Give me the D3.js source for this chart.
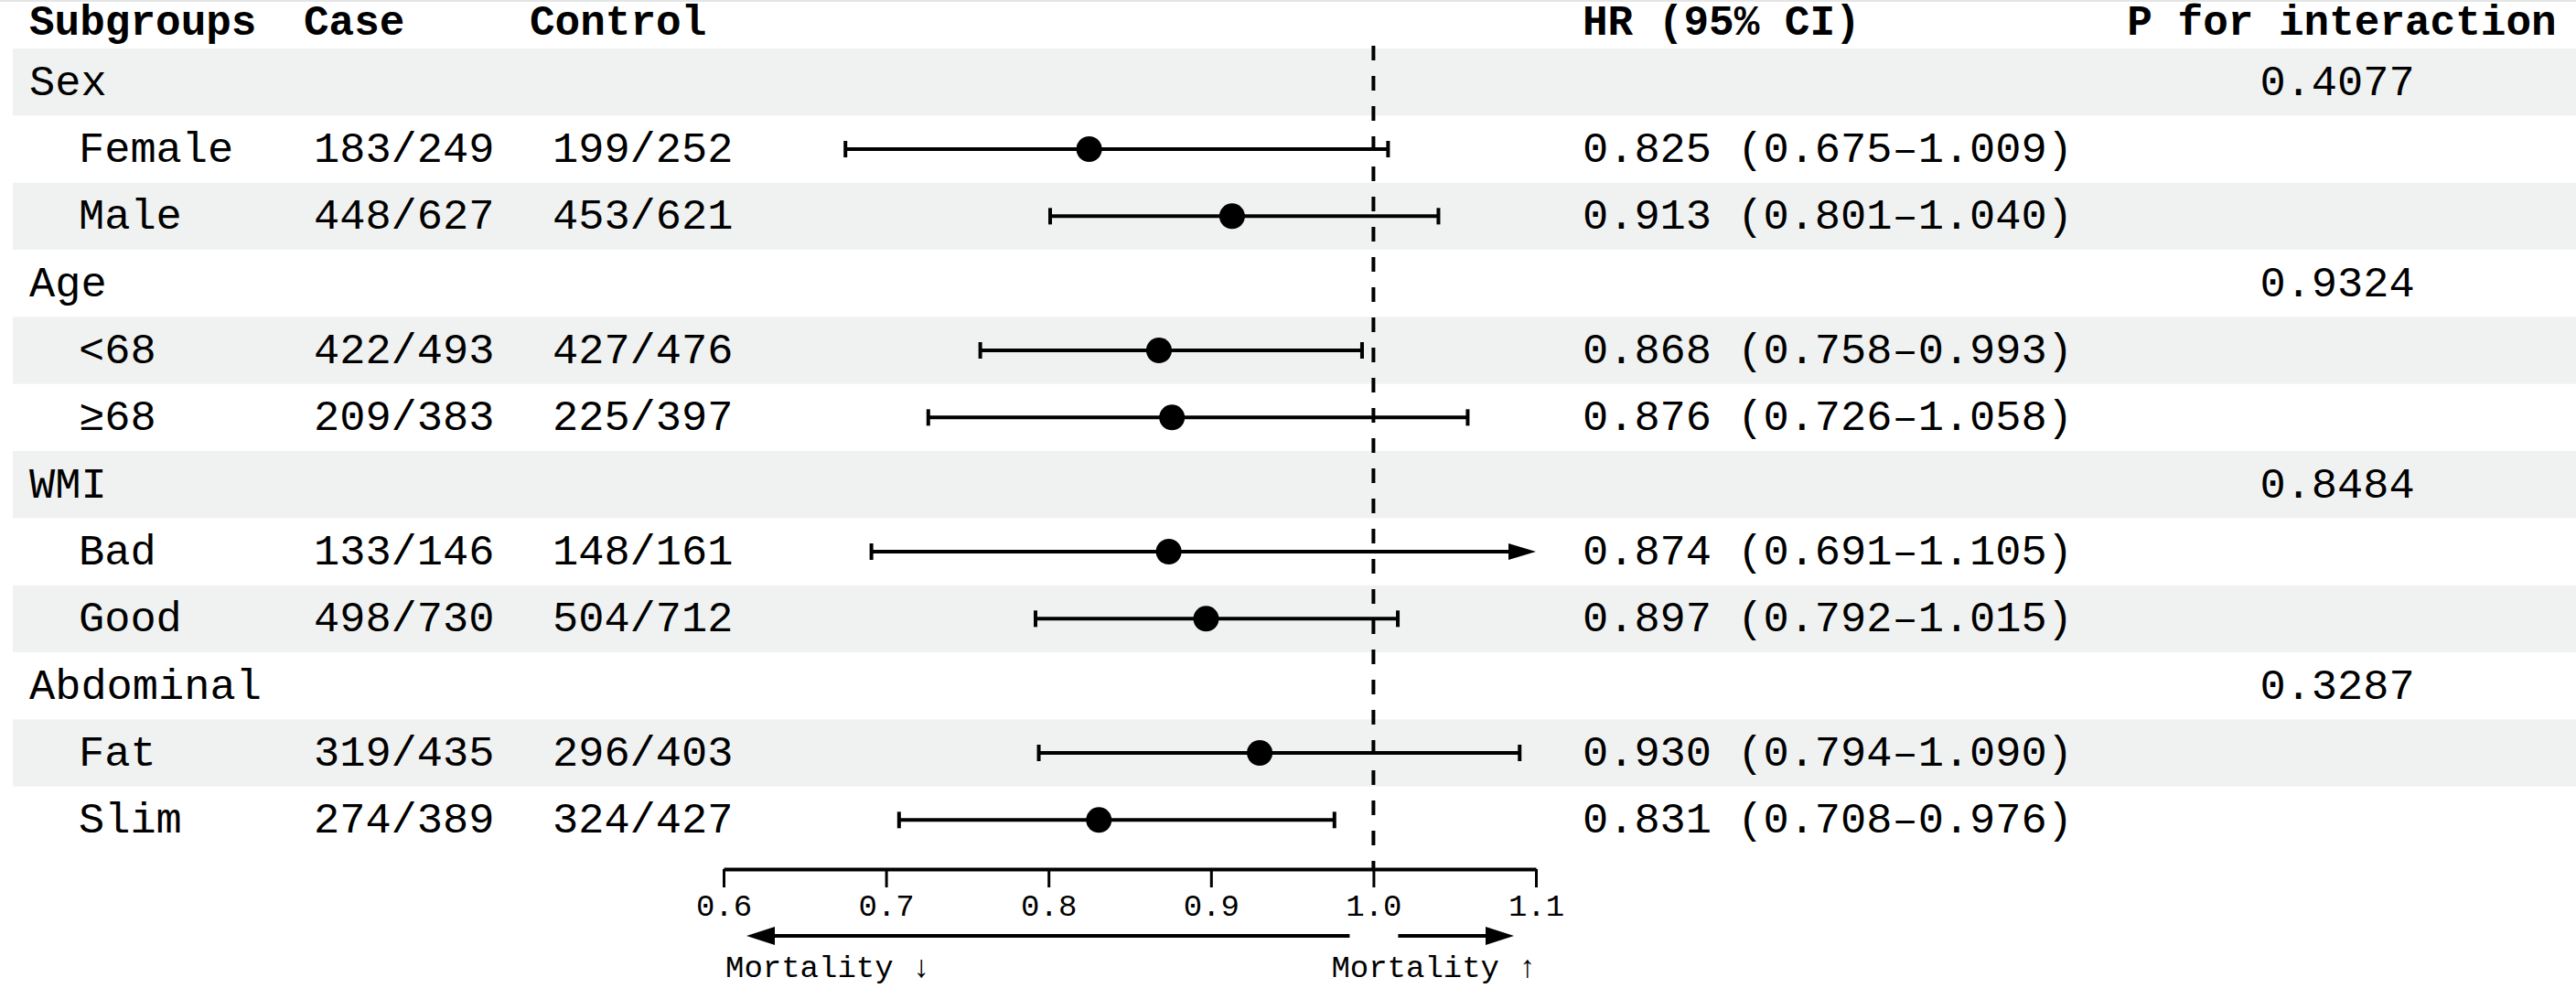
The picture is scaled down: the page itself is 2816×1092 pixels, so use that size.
<!DOCTYPE html>
<html>
<head>
<meta charset="utf-8">
<script src="https://cdn.jsdelivr.net/npm/d3@7"></script>
<style>
  html, body { margin: 0; padding: 0; background: #fff; }
  svg { display: block; }
  text { font-family: "Liberation Mono", "DejaVu Sans Mono", monospace; fill: #000; }
</style>
</head>
<body>
<svg id="chart" width="2816" height="1092"></svg>
<script>
// ---------------- data ----------------
const groupNames   = ["Sex", "Age", "WMI", "Abdominal"];
const pInteraction = ["0.4077", "0.9324", "0.8484", "0.3287"];
const subgroups    = ["Female", "Male", "<68", "≥68", "Bad", "Good", "Fat", "Slim"];
const subgroupOf   = [0, 0, 1, 1, 2, 2, 3, 3];
const caseCounts   = ["183/249", "448/627", "422/493", "209/383", "133/146", "498/730", "319/435", "274/389"];
const controlCounts= ["199/252", "453/621", "427/476", "225/397", "148/161", "504/712", "296/403", "324/427"];
const hr           = [0.825, 0.913, 0.868, 0.876, 0.874, 0.897, 0.930, 0.831];
const lower        = [0.675, 0.801, 0.758, 0.726, 0.691, 0.792, 0.794, 0.708];
const upper        = [1.009, 1.040, 0.993, 1.058, 1.105, 1.015, 1.090, 0.976];
const headers      = ["Subgroups", "Case", "Control", "HR (95% CI)", "P for interaction"];
const xTicks       = [0.6, 0.7, 0.8, 0.9, 1.0, 1.1];
const axisLabels   = ["Mortality ↓", "Mortality ↑"];

// ---------------- build rows ----------------
const rows = [];
groupNames.forEach((g, gi) => {
  rows.push({type: "group", label: g, p: pInteraction[gi]});
  subgroups.forEach((s, si) => {
    if (subgroupOf[si] === gi) rows.push({type: "sub", label: s, i: si});
  });
});

const W = 2816, H = 1092;
const svg = d3.select("#chart");
const fs = 47;

const y = d3.scaleBand().domain(d3.range(rows.length)).range([53, 933]).padding(0);
const x = d3.scaleLinear().domain([0.6, 1.1]).range([791, 1679]);
const xMin = x.domain()[0], xMax = x.domain()[1];

// top faint line
svg.append("line").attr("x1", 0).attr("x2", W).attr("y1", 1).attr("y2", 1)
  .attr("stroke", "#e4e6e5").attr("stroke-width", 2);

// bands
svg.append("g").selectAll("rect").data(rows).join("rect")
  .attr("x", 14).attr("width", W - 14)
  .attr("y", (d, i) => y(i)).attr("height", y.bandwidth())
  .attr("fill", (d, i) => i % 2 === 0 ? "#f0f2f1" : "none");

// headers
const colX = [32, 332, 579, 1730, 2560];
const hg = svg.append("g").attr("font-weight", "bold").attr("font-size", 46);
headers.forEach((h, k) => {
  hg.append("text").attr("x", colX[k]).attr("y", 38)
    .attr("text-anchor", k === 4 ? "middle" : "start").text(h);
});

// table text
const tg = svg.append("g").attr("font-size", fs);
const baseY = i => y(i) + y.bandwidth() / 2 + 14;
rows.forEach((r, i) => {
  if (r.type === "group") {
    tg.append("text").attr("x", 32).attr("y", baseY(i)).text(r.label);
    tg.append("text").attr("x", 2555).attr("y", baseY(i)).attr("text-anchor", "middle").text(r.p);
  } else {
    const k = r.i;
    tg.append("text").attr("x", 86).attr("y", baseY(i)).text(r.label);
    tg.append("text").attr("x", 343).attr("y", baseY(i)).text(caseCounts[k]);
    tg.append("text").attr("x", 604).attr("y", baseY(i)).text(controlCounts[k]);
    const f = d3.format(".3f");
    tg.append("text").attr("x", 1730).attr("y", baseY(i))
      .text(`${f(hr[k])} (${f(lower[k])}–${f(upper[k])})`);
  }
});

// reference dashed line at 1.0
svg.append("line")
  .attr("x1", x(1)).attr("x2", x(1)).attr("y1", 50).attr("y2", 950)
  .attr("stroke", "#000").attr("stroke-width", 4).attr("stroke-dasharray", "16 17");

// error bars & points
const pg = svg.append("g");
rows.forEach((r, i) => {
  if (r.type !== "sub") return;
  const k = r.i;
  const cy = y(i) + y.bandwidth() / 2;
  const lo = Math.max(lower[k], xMin), hi = Math.min(upper[k], xMax);
  const arrowR = upper[k] > xMax;
  const x2 = arrowR ? x(hi) - 28 : x(hi);
  pg.append("line").attr("x1", x(lo)).attr("x2", x2).attr("y1", cy).attr("y2", cy)
    .attr("stroke", "#000").attr("stroke-width", 4);
  pg.append("line").attr("x1", x(lo)).attr("x2", x(lo)).attr("y1", cy - 9).attr("y2", cy + 9)
    .attr("stroke", "#000").attr("stroke-width", 4);
  if (arrowR) {
    pg.append("path")
      .attr("d", `M${x(hi)},${cy} L${x(hi) - 30},${cy - 9} L${x(hi) - 30},${cy + 9} Z`)
      .attr("fill", "#000");
  } else {
    pg.append("line").attr("x1", x(hi)).attr("x2", x(hi)).attr("y1", cy - 9).attr("y2", cy + 9)
      .attr("stroke", "#000").attr("stroke-width", 4);
  }
  pg.append("circle").attr("cx", x(hr[k])).attr("cy", cy).attr("r", 14).attr("fill", "#000");
});

// x axis
const axis = d3.axisBottom(x).tickValues(xTicks).tickFormat(d3.format(".1f"))
  .tickSize(20).tickSizeOuter(0).tickPadding(7);
const ag = svg.append("g").attr("transform", "translate(0,950)").call(axis);
ag.select(".domain").attr("stroke", "#000").attr("stroke-width", 4);
ag.selectAll(".tick line").attr("stroke", "#000").attr("stroke-width", 3);
ag.selectAll(".tick text").attr("font-size", 34)
  .attr("font-family", "'Liberation Mono', 'DejaVu Sans Mono', monospace").attr("fill", "#000");

// direction arrows
const ay = 1023;
const arr = svg.append("g");
arr.append("line").attr("x1", x(xMin) + 50).attr("x2", x(1) - 26).attr("y1", ay).attr("y2", ay)
  .attr("stroke", "#000").attr("stroke-width", 4);
arr.append("path")
  .attr("d", `M${x(xMin) + 25},${ay} L${x(xMin) + 56},${ay - 10} L${x(xMin) + 56},${ay + 10} Z`).attr("fill", "#000");
arr.append("line").attr("x1", x(1) + 27).attr("x2", x(xMax) - 50).attr("y1", ay).attr("y2", ay)
  .attr("stroke", "#000").attr("stroke-width", 4);
arr.append("path")
  .attr("d", `M${x(xMax) - 24},${ay} L${x(xMax) - 55},${ay - 10} L${x(xMax) - 55},${ay + 10} Z`).attr("fill", "#000");

svg.append("text").attr("x", x(xMin) + 2).attr("y", 1068).attr("font-size", 34).text(axisLabels[0]);
svg.append("text").attr("x", x(1) - 46).attr("y", 1068).attr("font-size", 34).text(axisLabels[1]);
</script>
</body>
</html>
